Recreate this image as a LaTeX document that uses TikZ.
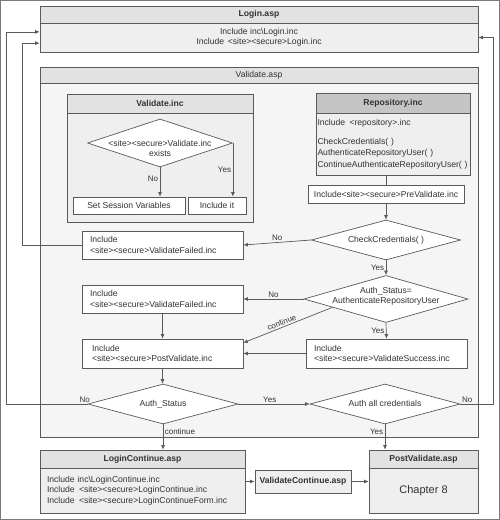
\documentclass[tikz,border=0pt]{standalone}
\usepackage{fontspec}
\setmainfont{Liberation Sans}
\usetikzlibrary{arrows.meta,shapes.geometric,calc}
\definecolor{lncol}{HTML}{5A5A5A}
\definecolor{txcol}{HTML}{333333}
\definecolor{ttlcol}{HTML}{E2E2E2}
\definecolor{bdycol}{HTML}{EFEFEF}
\definecolor{vbdycol}{HTML}{F5F5F5}
\definecolor{rttlcol}{HTML}{C5C5C5}
\definecolor{frmcol}{HTML}{7A7A7A}
\newcommand\dtext[2][-3pt]{\makebox[0pt]{\smash{\raisebox{#1}{\begin{tabular}{@{}c@{}}#2\end{tabular}}}}}
\begin{document}
\begin{tikzpicture}[x=1pt,y=-1pt,
  every node/.style={text=txcol, font=\fontsize{8.6}{10.5}\selectfont},
  bx/.style={draw=lncol, line width=0.7pt, fill=white, inner sep=0pt, anchor=center},
  ttlbox/.style={bx, fill=ttlcol, font=\fontsize{8.6}{10.5}\selectfont\bfseries},
  lbox/.style={bx, align=left},
  dia/.style={draw=lncol, line width=0.7pt, fill=white, shape=diamond, inner sep=0pt},
  arr/.style={draw=lncol, line width=0.7pt, -{Latex[length=4.5pt,width=4pt]}},
  conn/.style={draw=lncol, line width=0.7pt},
  lbl/.style={font=\fontsize{8}{9.5}\selectfont, inner sep=1.5pt}
]
\useasboundingbox (0,0) rectangle (500,520);
\draw[frmcol, line width=0.8pt] (0.6,0.6) rectangle (499.4,519.4);

% Login.asp
\node[ttlbox, minimum width=438pt, minimum height=17pt] (logint) at (259,14.5) {Login.asp};
\node[bx, fill=bdycol, minimum width=438pt, minimum height=29pt, align=center] (loginb) at (259,37.5) {Include inc\textbackslash Login.inc\\Include \,<site><secure>Login.inc};

% Validate.asp
\node[bx, fill=ttlcol, minimum width=438pt, minimum height=16pt] (vaspt) at (259,75) {Validate.asp};
\node[bx, fill=vbdycol, minimum width=438pt, minimum height=354pt] (vaspb) at (259,260) {};

% Validate.inc
\node[ttlbox, minimum width=186pt, minimum height=19pt] (vinct) at (160,103.5) {Validate.inc};
\node[bx, fill=bdycol, minimum width=186pt, minimum height=109pt] (vincb) at (160,167.5) {};
\node[dia, minimum width=145pt, minimum height=48pt] (vex) at (160,143) {\dtext[-8.5pt]{<site><secure>Validate.inc\\exists}};
\node[bx, minimum width=112pt, minimum height=17pt] (ssv) at (129,205.5) {Set Session Variables};
\node[bx, minimum width=58pt, minimum height=17pt] (incit) at (217,205.5) {Include it};

% Repository.inc
\node[ttlbox, fill=rttlcol, minimum width=154pt, minimum height=20pt] (rept) at (393,103) {Repository.inc};
\node[lbox, fill=bdycol, inner xsep=1.5pt, text width=151pt, minimum height=62pt, font=\fontsize{8.6}{11.5}\selectfont] (repb) at (393,144) {Include \,<repository>.inc\\[7.5pt]CheckCredentials(~)\\AuthenticateRepositoryUser(~)\\ContinueAuthenticateRepositoryUser(~)};
\node[bx, minimum width=156pt, minimum height=18pt] (prev) at (386,194) {Include<site><secure>PreValidate.inc};

% decisions right column
\node[dia, minimum width=149pt, minimum height=40pt] (cc) at (386,240) {\dtext{CheckCredentials(~)}};
\node[dia, minimum width=164pt, minimum height=47pt] (auth) at (386,299) {\dtext[0.5pt]{Auth\_Status=\\AuthenticateRepositoryUser}};
\node[lbox, inner xsep=8pt, text width=145pt, minimum height=29pt] (vs) at (386.5,353.5) {Include\\<site><secure>ValidateSuccess.inc};

% left column
\node[lbox, inner xsep=8pt, text width=145pt, minimum height=28pt] (vf1) at (162.5,245) {Include\\<site><secure>ValidateFailed.inc};
\node[lbox, inner xsep=8pt, text width=145pt, minimum height=28pt] (vf2) at (162.5,299) {Include\\<site><secure>ValidateFailed.inc};
\node[lbox, inner xsep=10pt, text width=141pt, minimum height=29pt] (pv) at (162.5,353.5) {Include\\<site><secure>PostValidate.inc};

\node[dia, minimum width=150pt, minimum height=40pt] (as) at (163,404) {\dtext{Auth\_Status}};
\node[dia, minimum width=150pt, minimum height=40pt] (aac) at (385,404) {\dtext{Auth all credentials}};

% bottom boxes
\node[ttlbox, minimum width=205pt, minimum height=18pt] (lct) at (142.5,459) {LoginContinue.asp};
\node[lbox, fill=bdycol, inner xsep=7pt, text width=191pt, minimum height=45pt] (lcb) at (142.5,490.5) {Include inc\textbackslash LoginContinue.inc\\Include \,<site><secure>LoginContinue.inc\\Include \,<site><secure>LoginContinueForm.inc};
\node[ttlbox, fill=bdycol, minimum width=96pt, minimum height=23pt] (vc) at (303,481.5) {ValidateContinue.asp};
\node[ttlbox, minimum width=109pt, minimum height=18pt] (pvat) at (423.5,459) {PostValidate.asp};
\node[bx, fill=bdycol, minimum width=109pt, minimum height=45pt, font=\fontsize{11}{13}\selectfont] (pvab) at (423.5,490.5) {Chapter 8};

% connectors
\draw[arr] (vex.south) -- node[lbl, left, pos=0.4]{No} (vex.south |- ssv.north);
\draw[arr] (vex.east) -- node[lbl, left, pos=0.5]{Yes} (vex.east |- incit.north);
\draw[conn] (repb.south -| prev.north) -- (prev.north);
\draw[arr] (prev.south) -- (cc.north);
\draw[arr] (cc.west) -- node[lbl, above]{No} (vf1.east);
\draw[arr] (cc.south) -- node[lbl, left]{Yes} (auth.north);
\draw[arr] (auth.west) -- node[lbl, above]{No} (vf2.east);
\coordinate (authc) at ($(auth.west)!0.35!(auth.south)$);
\coordinate (pvin) at ($(pv.north east)!0.14!(pv.south east)$);
\draw[arr] (authc) -- node[lbl, sloped, above, pos=0.55]{continue} (pvin);
\draw[arr] (auth.south) -- node[lbl, left]{Yes} (vs.north);
\draw[arr] (vs.west) -- (vs.west -| pv.east);
\draw[arr] (vf2.south) -- (pv.north);
\draw[arr] (pv.south) -- (pv.south |- as.north);
\coordinate (lin1) at ($(loginb.north west)!0.31!(loginb.south west)$);
\coordinate (lin2) at ($(loginb.north west)!0.69!(loginb.south west)$);
\draw[arr] (as.west) -- node[lbl, pos=0, above, xshift=-3pt]{No} ++(-81,0) |- (lin1);
\draw[arr] (vf1.west) -- ++(-59,0) |- (lin2);
\draw[arr] (as.east) -- node[lbl, above, pos=0.44]{Yes} (aac.west);
\draw[arr] (aac.east) -- node[lbl, pos=0, above right]{No} ++(33,0) |- (loginb.east);
\draw[arr] (as.south) -- node[lbl, right, pos=0.3]{continue} (as.south |- lct.north);
\draw[arr] (aac.south) -- node[lbl, left, pos=0.3]{Yes} (aac.south |- pvat.north);
\draw[arr] (vc.west -| lcb.east) -- (vc.west);
\draw[arr] (vc.east) -- (vc.east -| pvab.west);
\end{tikzpicture}
\end{document}
